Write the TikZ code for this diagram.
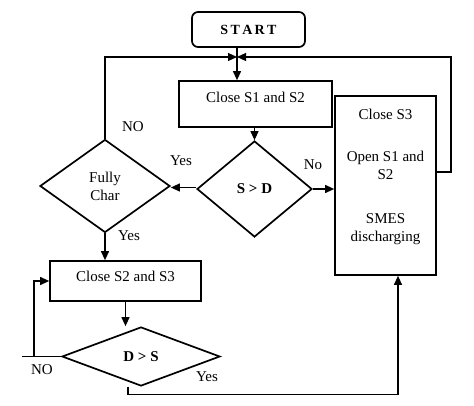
\documentclass[tikz,border=0pt]{standalone}
\usepackage{fontspec}
\setmainfont{Liberation Serif}
\usetikzlibrary{shapes.geometric,arrows.meta}
\begin{document}
\begin{tikzpicture}[x=1pt,y=-1pt,
  every node/.style={font=\fontsize{15}{18}\selectfont},
  boxnode/.style={draw,line width=1.7pt,rectangle,inner sep=0pt,align=center},
  decision/.style={draw,line width=1.7pt,diamond,inner sep=0pt,align=center},
  lbl/.style={inner sep=0pt},
  conn/.style={line width=1.1pt},
  arr/.style={conn,-{Triangle[length=9pt,width=8pt]}}]
\useasboundingbox (0,0) rectangle (474,406);
% nodes
\node[boxnode,rounded corners=6pt,minimum width=113pt,minimum height=35pt,font=\fontsize{14}{17}\selectfont\bfseries] (start) at (248.5,29.5) {S\,T\,A\,R\,T};
\node[boxnode,minimum width=153pt,minimum height=46pt,text depth=14pt] (s12) at (255.5,104) {Close S1 and S2};
\node[boxnode,minimum width=101pt,minimum height=179pt,text depth=20pt] (s3) at (385.5,185.5)
  {Close S3\\[24pt]Open S1 and\\S2\\[26pt]SMES\\discharging};
\node[decision,minimum width=130pt,minimum height=93pt] (fc) at (105,186) {Fully\\Char};
\node[decision,minimum width=115pt,minimum height=96pt,font=\fontsize{15}{18}\selectfont\bfseries] (sd) at (254.5,189) {S > D};
\node[boxnode,minimum width=151pt,minimum height=40pt,text depth=9pt] (s23) at (125.5,281) {Close S2 and S3};
\node[decision,minimum width=158pt,minimum height=59pt,font=\fontsize{15}{18}\selectfont\bfseries] (ds) at (141,356.5) {D > S};
% labels
\node[lbl] (lno1) at (133,127) {NO};
\node[lbl] (lyes1) at (181,161) {Yes};
\node[lbl] (lno2) at (313,165) {No};
\node[lbl] (lyes2) at (129,236) {Yes};
\node[lbl] (lno3) at (42,370) {NO};
\node[lbl] (lyes3) at (207,377) {Yes};
% coordinates
\coordinate (j) at (237,57);
\coordinate (nl) at (22,356.5);
% connectors
\draw[conn] (start.south -| j) -- (j);
\draw[arr] (fc.north) -- (105,57) -- (j);
\draw[arr] (s3.east |- 0,172) -- (451,172) -- (451,57) -- (j);
\draw[arr] (j) -- (j |- s12.north);
\draw[arr] (s12.south -| sd.north) -- (sd.north);
\draw[arr] (sd.west |- 0,187.5) -- (fc.east |- 0,187.5);
\draw[arr] (sd.east) -- (s3.west |- sd.east);
\draw[arr] (fc.south) -- (fc.south |- s23.north);
\draw[arr] (s23.south) -- (s23.south |- ds.north);
\draw[conn] (ds.west) -- (nl);
\draw[arr] (34,356.5) |- (s23.west);
\draw[arr] ([xshift=-13pt]ds.south) -- ++(0,8) -| ([xshift=12.5pt]s3.south);
\end{tikzpicture}
\end{document}
